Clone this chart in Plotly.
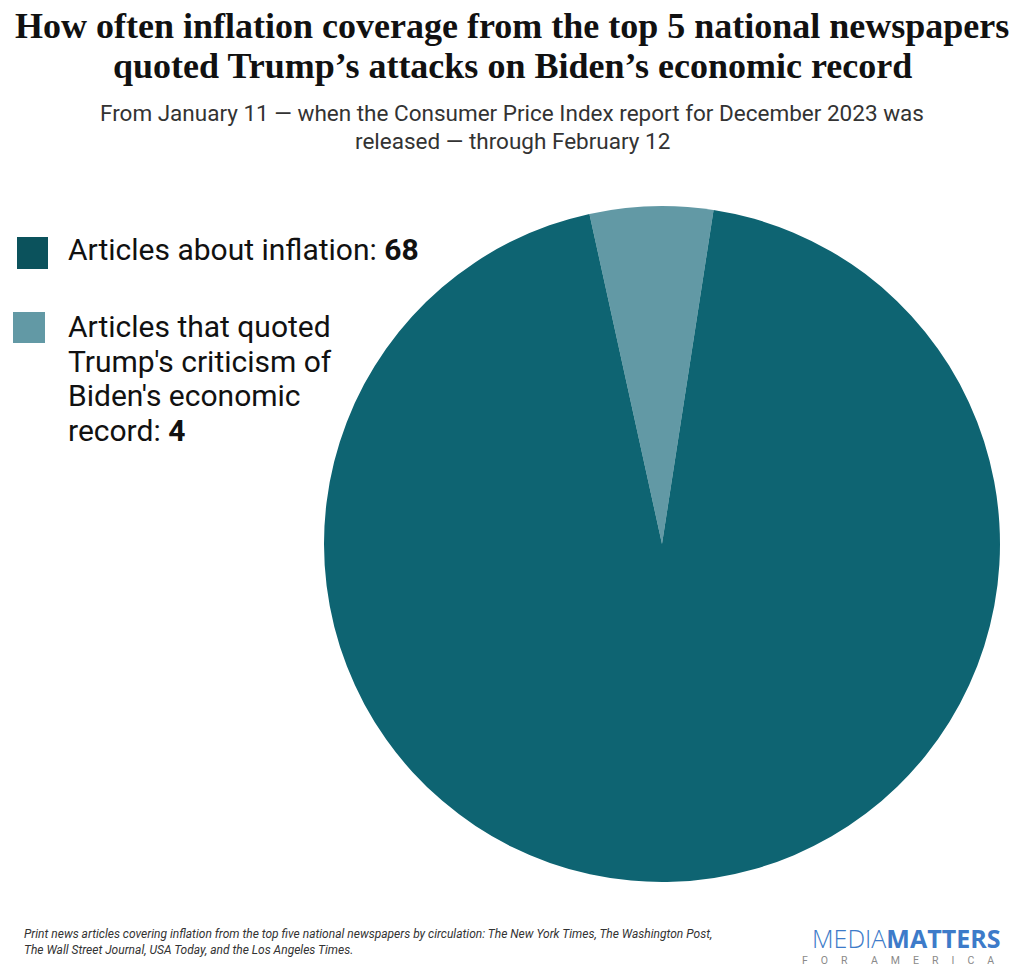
import plotly.graph_objects as go

# Data
labels = ["Articles that quoted Trump's criticism of Biden's economic record", "Other articles about inflation"]
values = [4, 64]
total_articles = 68
quoted_articles = 4
colors = ["#6299a5", "#0e6472"]
legend_colors = ["#0b525c", "#6299a5"]

title_lines = [
    "How often inflation coverage from the top 5 national newspapers",
    "quoted Trump’s attacks on Biden’s economic record",
]
subtitle_lines = [
    "From January 11 — when the Consumer Price Index report for December 2023 was",
    "released — through February 12",
]
legend1_lines = [f"Articles about inflation: <b>{total_articles}</b>"]
legend2_lines = [
    "Articles that quoted",
    "Trump's criticism of",
    "Biden's economic",
    f"record: <b>{quoted_articles}</b>",
]
footnote = ("<i>Print news articles covering inflation from the top five national newspapers by circulation: "
            "The New York Times, The Washington Post,<br>The Wall Street Journal, USA Today, and the Los Angeles Times.</i>")

fig = go.Figure()
fig.add_trace(go.Pie(
    labels=labels,
    values=values,
    sort=False,
    direction="clockwise",
    rotation=-12.4,
    marker=dict(colors=colors, line=dict(width=0)),
    textinfo="none",
    hoverinfo="label+value",
    showlegend=False,
    domain=dict(x=[324/1024, 1000/1024], y=[90/972, 766/972]),
))

W, H = 1024, 972

def px(x):
    return x / W

def py(y):
    return 1 - y / H

annotations = []
# Title
for i, line in enumerate(title_lines):
    annotations.append(dict(
        x=0.5, y=py(4 + 40 * i), xref="paper", yref="paper", xanchor="center", yanchor="top",
        text=f"<b>{line}</b>", showarrow=False, align="center",
        font=dict(family="Liberation Serif", size=36, color="#111111"),
    ))
# Subtitle
for i, line in enumerate(subtitle_lines):
    annotations.append(dict(
        x=0.5, y=py(113 + 28 * i), xref="paper", yref="paper", xanchor="center", yanchor="middle",
        text=line, showarrow=False, align="center",
        font=dict(family="Roboto", size=22.5, color="#333333"),
    ))
# Legend texts
for i, line in enumerate(legend1_lines):
    annotations.append(dict(
        x=px(66), y=py(230), xref="paper", yref="paper", xanchor="left", yanchor="top",
        text=line, showarrow=False, align="left",
        font=dict(family="Roboto", size=30, color="#111111"),
    ))
for i, line in enumerate(legend2_lines):
    annotations.append(dict(
        x=px(66), y=py(307 + 34.7 * i), xref="paper", yref="paper", xanchor="left", yanchor="top",
        text=line, showarrow=False, align="left",
        font=dict(family="Roboto", size=30, color="#111111"),
    ))
# Footnote
annotations.append(dict(
    x=px(22), y=py(925), xref="paper", yref="paper", xanchor="left", yanchor="top",
    text=footnote, showarrow=False, align="left",
    font=dict(family="Roboto", size=12, color="#333333"),
))
# Logo
annotations.append(dict(
    x=px(1002), y=py(938), xref="paper", yref="paper", xanchor="right", yanchor="middle",
    text="<span style='font-weight:300'>MEDIA</span><b>MATTERS</b>",
    showarrow=False, align="right",
    font=dict(family="Open Sans", size=25, color="#3d7bc9"),
))
sp = "\u00a0" * 5
annotations.append(dict(
    x=px(898), y=py(960), xref="paper", yref="paper", xanchor="center", yanchor="middle",
    text=sp.join("FOR") + "\u00a0" * 9 + sp.join("AMERICA"),
    showarrow=False, align="center",
    font=dict(family="Roboto", size=10.5, color="#8a8a8a"),
))

shapes = [
    dict(type="rect", xref="paper", yref="paper",
         x0=px(17), x1=px(48), y0=py(269), y1=py(237),
         fillcolor=legend_colors[0], line=dict(width=0)),
    dict(type="rect", xref="paper", yref="paper",
         x0=px(13), x1=px(45), y0=py(343), y1=py(312),
         fillcolor=legend_colors[1], line=dict(width=0)),
]

fig.update_layout(
    width=W, height=H,
    margin=dict(l=0, r=0, t=0, b=0),
    paper_bgcolor="white", plot_bgcolor="white",
    annotations=annotations, shapes=shapes,
)

fig.write_html("out.html")
